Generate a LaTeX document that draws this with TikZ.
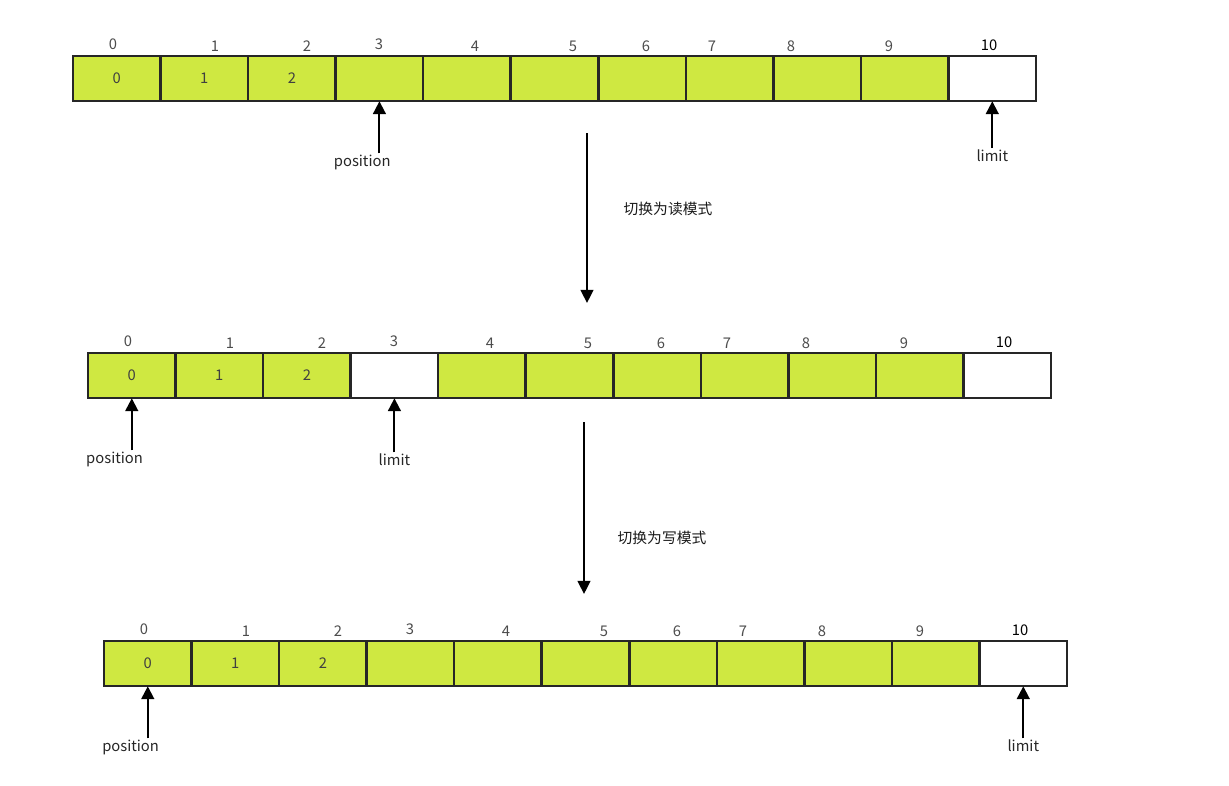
\documentclass[tikz,border=0pt]{standalone}
\usepackage{fontspec}
\setmainfont{Noto Sans CJK SC}
\usepackage{tikz}
\usetikzlibrary{positioning, arrows.meta}
\usepackage{xcolor}
\definecolor{bufgreen}{RGB}{207,232,65}

\begin{document}
\begin{tikzpicture}[x=0.025cm, y=-0.025cm,
  cell/.style={minimum width=2.189cm, minimum height=1.125cm,
    inner sep=0pt, font=\fontsize{10.5}{12}\selectfont, text=black!75},
  border/.style={draw=black!85, line width=1.4pt},
  idx/.style={font=\fontsize{10.5}{12}\selectfont, text=black!70, inner sep=0pt},
  ptr/.style={-{Triangle[length=3.2mm, width=3.2mm]}, line width=1.4pt},
  ptrlabel/.style={font=\fontsize{10.5}{12}\selectfont, text=black!85, inner sep=1pt},
  switch/.style={-{Triangle[length=3.3mm, width=3.2mm]}, line width=1.3pt},
  note/.style={font=\fontsize{10.5}{12}\selectfont, text=black!90}]

\useasboundingbox (0,0) rectangle (1229,785);

% --- three buffer rows: cells, cell values and indices ---
\foreach \r/\left/\top in {1/73/56, 2/88/353, 3/104/641} {
  \foreach \i in {0,...,10} {
    \def\fc{bufgreen}
    \ifnum\i=10 \def\fc{white}\fi
    \ifnum\r=2 \ifnum\i=3 \def\fc{white}\fi\fi
    \node[cell, fill=\fc] (r\r-\i) at (\left+87.55*\i+43.78, \top+22.5)
      {\ifnum\i<3 \i\fi};
  }
  % outlines on top of the fills
  \foreach \i in {0,...,10}
    \draw[border] (r\r-\i.south west) rectangle (r\r-\i.north east);
  \foreach \k/\dx/\dy in {0/40/12, 1/142/10, 2/234/10, 3/306/12, 4/402/10, 5/500/10,
                          6/573/10, 7/639/10, 8/718/10, 9/816/10} {
    \node[idx] (idx\r-\k) at (\left+\dx, \top-\dy) {\k};
  }
  \node[idx, text=black] (idx\r-10) at (\left+916, \top-11) {10};
}

% --- pointers: position / limit ---
\node[ptrlabel, below=1.3cm of r1-3.south, xshift=-0.43cm] (pos1) {position};
\node[ptrlabel, below=1.17cm of r1-10.south] (lim1) {limit};
\node[ptrlabel, below=1.3cm of r2-0.south, xshift=-0.43cm] (pos2) {position};
\node[ptrlabel, below=1.35cm of r2-3.south] (lim2) {limit};
\node[ptrlabel, below=1.3cm of r3-0.south, xshift=-0.43cm] (pos3) {position};
\node[ptrlabel, below=1.3cm of r3-10.south] (lim3) {limit};

\draw[ptr] (pos1.north -| r1-3) -- (r1-3.south);
\draw[ptr] (lim1) -- (r1-10.south);
\draw[ptr] (pos2.north -| r2-0) -- (r2-0.south);
\draw[ptr] (lim2) -- (r2-3.south);
\draw[ptr] (pos3.north -| r3-0) -- (r3-0.south);
\draw[ptr] (lim3) -- (r3-10.south);

% --- mode switches ---
\coordinate (sw1a) at (587,133);
\coordinate (sw1b) at (587,303);
\coordinate (sw2a) at (584,422);
\coordinate (sw2b) at (584,594);
\draw[switch] (sw1a) -- (sw1b);
\draw[switch] (sw2a) -- (sw2b);
\node[note] (read) at (668,209) {切换为读模式};
\node[note] (write) at (662,538) {切换为写模式};
\end{tikzpicture}
\end{document}
